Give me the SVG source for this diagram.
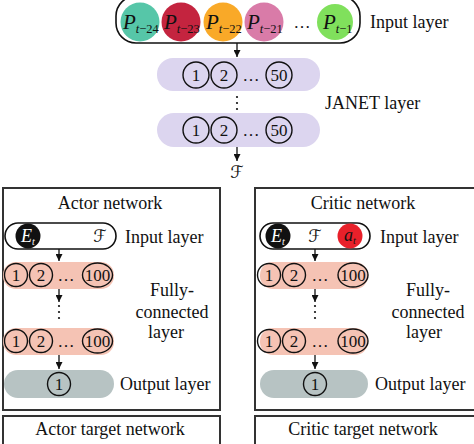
<svg xmlns="http://www.w3.org/2000/svg" width="474" height="444" viewBox="0 0 474 444">
<defs>
<marker id="ah" viewBox="0 0 10 10" refX="10" refY="5" markerWidth="7" markerHeight="7" orient="auto" markerUnits="userSpaceOnUse">
<path d="M0,0 L10,5 L0,10 z" fill="#111"/>
</marker>
</defs>
<rect width="474" height="444" fill="#fff"/>

<g id="input-layer">
<rect x="116" y="-4" width="244" height="47" rx="20" fill="#fff" stroke="#111" stroke-width="1.6"/>
<circle cx="140" cy="22" r="19.5" fill="#56c6a8"/>
<circle cx="181" cy="22" r="19.5" fill="#c4243f"/>
<circle cx="223" cy="22" r="19.5" fill="#f9a928"/>
<circle cx="264" cy="22" r="19.5" fill="#d97ba8"/>
<circle cx="335" cy="22" r="18" fill="#80e05c"/>
<text x="123" y="29" font-family="Liberation Serif" font-size="21" font-style="italic" fill="#111">P<tspan font-size="12.5" dy="4">t<tspan font-style="normal">−24</tspan></tspan></text>
<text x="164" y="29" font-family="Liberation Serif" font-size="21" font-style="italic" fill="#111">P<tspan font-size="12.5" dy="4">t<tspan font-style="normal">−23</tspan></tspan></text>
<text x="206" y="29" font-family="Liberation Serif" font-size="21" font-style="italic" fill="#111">P<tspan font-size="12.5" dy="4">t<tspan font-style="normal">−22</tspan></tspan></text>
<text x="247" y="29" font-family="Liberation Serif" font-size="21" font-style="italic" fill="#111">P<tspan font-size="12.5" dy="4">t<tspan font-style="normal">−21</tspan></tspan></text>
<text x="302" y="28" font-family="Liberation Serif" font-size="17" text-anchor="middle" fill="#111">…</text>
<text x="323" y="29" font-family="Liberation Serif" font-size="21" font-style="italic" fill="#111">P<tspan font-size="12.5" dy="4">t<tspan font-style="normal">−1</tspan></tspan></text>
<text x="370" y="28" font-family="Liberation Serif" font-size="18" fill="#111">Input layer</text>
</g>

<g id="janet-layer">
<g fill="#dcd5ef">
<rect x="157" y="58" width="163" height="33" rx="16"/>
<rect x="157" y="113" width="163" height="34" rx="17"/>
</g>
<g fill="none" stroke="#111" stroke-width="1.4">
<circle cx="196" cy="75" r="13"/>
<circle cx="224" cy="75" r="13"/>
<circle cx="279" cy="75" r="13"/>
<circle cx="196" cy="130" r="13"/>
<circle cx="224" cy="130" r="13"/>
<circle cx="279" cy="130" r="13"/>
</g>
<text x="196" y="81" font-family="Liberation Serif" font-size="17" text-anchor="middle" fill="#111">1</text>
<text x="224" y="81" font-family="Liberation Serif" font-size="17" text-anchor="middle" fill="#111">2</text>
<text x="251" y="81" font-family="Liberation Serif" font-size="17" text-anchor="middle" fill="#111">…</text>
<text x="279" y="81" font-family="Liberation Serif" font-size="17" text-anchor="middle" fill="#111">50</text>
<text x="196" y="136" font-family="Liberation Serif" font-size="17" text-anchor="middle" fill="#111">1</text>
<text x="224" y="136" font-family="Liberation Serif" font-size="17" text-anchor="middle" fill="#111">2</text>
<text x="251" y="136" font-family="Liberation Serif" font-size="17" text-anchor="middle" fill="#111">…</text>
<text x="279" y="136" font-family="Liberation Serif" font-size="17" text-anchor="middle" fill="#111">50</text>
<g fill="#111">
<circle cx="237" cy="97" r="1.1"/>
<circle cx="237" cy="103" r="1.1"/>
<circle cx="237" cy="109" r="1.1"/>
</g>
<text x="325" y="109" font-family="Liberation Serif" font-size="18" fill="#111">JANET layer</text>
<text x="237" y="178" font-family="DejaVu Sans" font-size="17" text-anchor="middle" fill="#111">ℱ</text>
</g>

<g id="actor-network">
<rect x="3" y="188" width="217" height="222" fill="#fff" stroke="#333" stroke-width="2"/>
<text x="110" y="209" font-family="Liberation Serif" font-size="18" text-anchor="middle" fill="#111">Actor network</text>
<rect x="5" y="223" width="111" height="26" rx="13" fill="#fff" stroke="#111" stroke-width="1.6"/>
<circle cx="28" cy="236" r="12.5" fill="#111"/>
<text x="21" y="242" font-family="Liberation Serif" font-size="18" font-style="italic" fill="#fff">E<tspan font-size="10" dy="3">t</tspan></text>
<text x="100" y="242" font-family="DejaVu Sans" font-size="17" text-anchor="middle" fill="#111">ℱ</text>
<text x="125" y="243" font-family="Liberation Serif" font-size="18" fill="#111">Input layer</text>
<g fill="#f5c3b4">
<rect x="3" y="262" width="111" height="27" rx="13"/>
<rect x="3" y="328" width="111" height="27" rx="13"/>
</g>
<rect x="4" y="370" width="110" height="28" rx="14" fill="#b7c3c3"/>
<g fill="none" stroke="#111" stroke-width="1.4">
<circle cx="16" cy="275" r="11.5"/>
<circle cx="41" cy="275" r="11.5"/>
<ellipse cx="97.5" cy="275" rx="15" ry="12"/>
<circle cx="16" cy="341" r="11.5"/>
<circle cx="41" cy="341" r="11.5"/>
<ellipse cx="97.5" cy="341" rx="15" ry="12"/>
<circle cx="59" cy="384" r="11.5"/>
</g>
<text x="16" y="281" font-family="Liberation Serif" font-size="17" text-anchor="middle" fill="#111">1</text>
<text x="41" y="281" font-family="Liberation Serif" font-size="17" text-anchor="middle" fill="#111">2</text>
<text x="66" y="281" font-family="Liberation Serif" font-size="17" text-anchor="middle" fill="#111">…</text>
<text x="97.5" y="281" font-family="Liberation Serif" font-size="17" text-anchor="middle" fill="#111">100</text>
<text x="16" y="347" font-family="Liberation Serif" font-size="17" text-anchor="middle" fill="#111">1</text>
<text x="41" y="347" font-family="Liberation Serif" font-size="17" text-anchor="middle" fill="#111">2</text>
<text x="66" y="347" font-family="Liberation Serif" font-size="17" text-anchor="middle" fill="#111">…</text>
<text x="97.5" y="347" font-family="Liberation Serif" font-size="17" text-anchor="middle" fill="#111">100</text>
<text x="59" y="390" font-family="Liberation Serif" font-size="17" text-anchor="middle" fill="#111">1</text>
<g fill="#111">
<circle cx="59" cy="306" r="1.1"/>
<circle cx="59" cy="312" r="1.1"/>
<circle cx="59" cy="318" r="1.1"/>
</g>
<text x="172" y="296" font-family="Liberation Serif" font-size="18" text-anchor="middle" fill="#111">Fully-</text>
<text x="172" y="318" font-family="Liberation Serif" font-size="18" text-anchor="middle" fill="#111">connected</text>
<text x="166" y="338" font-family="Liberation Serif" font-size="18" text-anchor="middle" fill="#111">layer</text>
<text x="120" y="390" font-family="Liberation Serif" font-size="18" fill="#111">Output layer</text>
</g>

<g id="actor-target-network">
<rect x="3" y="416" width="217" height="32" fill="#fff" stroke="#333" stroke-width="2"/>
<text x="110" y="435" font-family="Liberation Serif" font-size="18" text-anchor="middle" fill="#111">Actor target network</text>
</g>

<g id="critic-network">
<rect x="255" y="188" width="222" height="222" fill="#fff" stroke="#333" stroke-width="2"/>
<text x="363" y="209" font-family="Liberation Serif" font-size="18" text-anchor="middle" fill="#111">Critic network</text>
<rect x="260" y="223" width="110" height="26" rx="13" fill="#fff" stroke="#111" stroke-width="1.6"/>
<circle cx="278" cy="236" r="12.5" fill="#111"/>
<text x="271" y="242" font-family="Liberation Serif" font-size="18" font-style="italic" fill="#fff">E<tspan font-size="10" dy="3">t</tspan></text>
<text x="315" y="242" font-family="DejaVu Sans" font-size="17" text-anchor="middle" fill="#111">ℱ</text>
<circle cx="350" cy="236" r="12.5" fill="#e8202a"/>
<text x="344" y="241" font-family="Liberation Serif" font-size="18" font-style="italic" fill="#111">a<tspan font-size="10" dy="3">t</tspan></text>
<text x="380" y="243" font-family="Liberation Serif" font-size="18" fill="#111">Input layer</text>
<g fill="#f5c3b4">
<rect x="260" y="262" width="108" height="27" rx="13"/>
<rect x="260" y="328" width="108" height="27" rx="13"/>
</g>
<rect x="260" y="370" width="108" height="28" rx="14" fill="#b7c3c3"/>
<g fill="none" stroke="#111" stroke-width="1.4">
<circle cx="269" cy="275" r="11.5"/>
<circle cx="294" cy="275" r="11.5"/>
<ellipse cx="353" cy="275" rx="15" ry="12"/>
<circle cx="269" cy="341" r="11.5"/>
<circle cx="294" cy="341" r="11.5"/>
<ellipse cx="353" cy="341" rx="15" ry="12"/>
<circle cx="315" cy="384" r="11.5"/>
</g>
<text x="269" y="281" font-family="Liberation Serif" font-size="17" text-anchor="middle" fill="#111">1</text>
<text x="294" y="281" font-family="Liberation Serif" font-size="17" text-anchor="middle" fill="#111">2</text>
<text x="320" y="281" font-family="Liberation Serif" font-size="17" text-anchor="middle" fill="#111">…</text>
<text x="353" y="281" font-family="Liberation Serif" font-size="17" text-anchor="middle" fill="#111">100</text>
<text x="269" y="347" font-family="Liberation Serif" font-size="17" text-anchor="middle" fill="#111">1</text>
<text x="294" y="347" font-family="Liberation Serif" font-size="17" text-anchor="middle" fill="#111">2</text>
<text x="320" y="347" font-family="Liberation Serif" font-size="17" text-anchor="middle" fill="#111">…</text>
<text x="353" y="347" font-family="Liberation Serif" font-size="17" text-anchor="middle" fill="#111">100</text>
<text x="315" y="390" font-family="Liberation Serif" font-size="17" text-anchor="middle" fill="#111">1</text>
<g fill="#111">
<circle cx="315" cy="306" r="1.1"/>
<circle cx="315" cy="312" r="1.1"/>
<circle cx="315" cy="318" r="1.1"/>
</g>
<text x="428" y="296" font-family="Liberation Serif" font-size="18" text-anchor="middle" fill="#111">Fully-</text>
<text x="428" y="318" font-family="Liberation Serif" font-size="18" text-anchor="middle" fill="#111">connected</text>
<text x="424" y="338" font-family="Liberation Serif" font-size="18" text-anchor="middle" fill="#111">layer</text>
<text x="375" y="390" font-family="Liberation Serif" font-size="18" fill="#111">Output layer</text>
</g>

<g id="critic-target-network">
<rect x="255" y="416" width="222" height="32" fill="#fff" stroke="#333" stroke-width="2"/>
<text x="363" y="435" font-family="Liberation Serif" font-size="18" text-anchor="middle" fill="#111">Critic target network</text>
</g>

<g id="connectors" stroke="#111" stroke-width="1.3" fill="none">
<line x1="237" y1="43" x2="237" y2="57" marker-end="url(#ah)"/>
<line x1="237" y1="147" x2="237" y2="161" marker-end="url(#ah)"/>
<line x1="59" y1="249" x2="59" y2="261" marker-end="url(#ah)"/>
<line x1="59" y1="289" x2="59" y2="302" marker-end="url(#ah)"/>
<line x1="59" y1="355" x2="59" y2="369" marker-end="url(#ah)"/>
<line x1="315" y1="249" x2="315" y2="261" marker-end="url(#ah)"/>
<line x1="315" y1="289" x2="315" y2="302" marker-end="url(#ah)"/>
<line x1="315" y1="355" x2="315" y2="369" marker-end="url(#ah)"/>
</g>
</svg>
